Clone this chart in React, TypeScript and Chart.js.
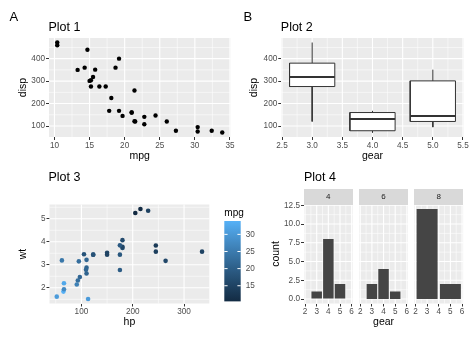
import React, { useEffect, useRef } from "react";
import { Chart, registerables } from "chart.js";
Chart.register(...registerables);

const W = 474;
const H = 338;
const FONT = "'Liberation Sans', Arial, Helvetica, sans-serif";
const TICK_SIZE = 8.2;
const AXIS_TITLE_SIZE = 10.5;

// ---------------- data (mtcars) ----------------
const mpg = [21.0, 21.0, 22.8, 21.4, 18.7, 18.1, 14.3, 24.4, 22.8, 19.2, 17.8, 16.4, 17.3, 15.2, 10.4, 10.4, 14.7, 32.4, 30.4, 33.9, 21.5, 15.5, 15.2, 13.3, 19.2, 27.3, 26.0, 30.4, 15.8, 19.7, 15.0, 21.4];
const disp = [160, 160, 108, 258, 360, 225, 360, 146.7, 140.8, 167.6, 167.6, 275.8, 275.8, 275.8, 472, 460, 440, 78.7, 75.7, 71.1, 120.1, 318, 304, 350, 400, 79, 120.3, 95.1, 351, 145, 301, 121];
const hp = [110, 110, 93, 110, 175, 105, 245, 62, 95, 123, 123, 180, 180, 180, 205, 215, 230, 66, 52, 65, 97, 150, 150, 245, 175, 66, 91, 113, 264, 175, 335, 109];
const wt = [2.62, 2.875, 2.32, 3.215, 3.44, 3.46, 3.57, 3.19, 3.15, 3.44, 3.44, 4.07, 3.73, 3.78, 5.25, 5.424, 5.345, 2.2, 1.615, 1.835, 2.465, 3.52, 3.435, 3.84, 3.845, 1.935, 2.14, 1.513, 3.17, 2.77, 3.57, 2.78];

// boxplot of disp by gear
const boxGears = [3, 4, 5];
const boxLower = [120.1, 71.1, 95.1];
const boxQ1 = [275.8, 78.925, 120.3];
const boxMedian = [318, 130.9, 145];
const boxQ3 = [380, 160, 301];
const boxUpper = [472, 167.6, 351];

// bar counts of gear, faceted by cyl
const facetLabels = ["4", "6", "8"];
const facetGears = [[3, 4, 5], [3, 4, 5], [3, 5]];
const facetCounts = [[1, 8, 2], [2, 4, 1], [12, 2]];

// tick labels
const mpgTicks = [10, 15, 20, 25, 30, 35];
const dispTicks = [100, 200, 300, 400];
const gearBoxTicks = [2.5, 3.0, 3.5, 4.0, 4.5, 5.0, 5.5];
const hpTicks = [100, 200, 300];
const wtTicks = [2, 3, 4, 5];
const countTicks = [0, 2.5, 5, 7.5, 10, 12.5];
const gearBarTicks = [2, 3, 4, 5, 6];
const mpgLegendTicks = [15, 20, 25, 30];

const BOX_WIDTH = 0.75;
const BAR_FACTOR = 0.9;

// ---------------- helpers ----------------
function rng(a: number[]): [number, number] {
  return [Math.min(...a), Math.max(...a)];
}
function expand(r: [number, number], m = 0.05): [number, number] {
  const d = (r[1] - r[0]) * m;
  return [r[0] - d, r[1] + d];
}
function resolution(xs: number[]): number {
  const s = Array.from(new Set(xs)).sort((a, b) => a - b);
  let r = Infinity;
  for (let i = 1; i < s.length; i++) r = Math.min(r, s[i] - s[i - 1]);
  return isFinite(r) ? r : 1;
}

// Lab colour interpolation (like scales::seq_gradient_pal)
const WP = [0.95047, 1, 1.08883];
function hexRgb(h: string) {
  const n = parseInt(h.slice(1), 16);
  return [(n >> 16) & 255, (n >> 8) & 255, n & 255];
}
const toLin = (c: number) => {
  c /= 255;
  return c <= 0.04045 ? c / 12.92 : Math.pow((c + 0.055) / 1.055, 2.4);
};
const fromLin = (c: number) => {
  const v = c <= 0.0031308 ? 12.92 * c : 1.055 * Math.pow(Math.max(c, 0), 1 / 2.4) - 0.055;
  return Math.round(Math.min(1, Math.max(0, v)) * 255);
};
const fl = (t: number) => (t > 216 / 24389 ? Math.cbrt(t) : ((24389 / 27) * t + 16) / 116);
const flInv = (t: number) => {
  const t3 = t * t * t;
  return t3 > 216 / 24389 ? t3 : (116 * t - 16) / (24389 / 27);
};
function rgbToLab(rgb: number[]) {
  const [r, g, b] = rgb.map(toLin);
  const X = 0.4124564 * r + 0.3575761 * g + 0.1804375 * b;
  const Y = 0.2126729 * r + 0.7151522 * g + 0.072175 * b;
  const Z = 0.0193339 * r + 0.119192 * g + 0.9503041 * b;
  const fx = fl(X / WP[0]), fy = fl(Y / WP[1]), fz = fl(Z / WP[2]);
  return [116 * fy - 16, 500 * (fx - fy), 200 * (fy - fz)];
}
function labToRgb(lab: number[]) {
  const fy = (lab[0] + 16) / 116;
  const fx = fy + lab[1] / 500;
  const fz = fy - lab[2] / 200;
  const X = WP[0] * flInv(fx), Y = WP[1] * flInv(fy), Z = WP[2] * flInv(fz);
  const r = 3.2404542 * X - 1.5371385 * Y - 0.4985314 * Z;
  const g = -0.969266 * X + 1.8760108 * Y + 0.041556 * Z;
  const b = 0.0556434 * X - 0.2040259 * Y + 1.0572252 * Z;
  return [fromLin(r), fromLin(g), fromLin(b)];
}
const LOW = rgbToLab(hexRgb("#132B43"));
const HIGH = rgbToLab(hexRgb("#56B1F7"));
const mpgDomain = rng(mpg);
function mpgColor(v: number) {
  const t = Math.min(1, Math.max(0, (v - mpgDomain[0]) / (mpgDomain[1] - mpgDomain[0])));
  const c = labToRgb(LOW.map((l, i) => l + (HIGH[i] - l) * t));
  return `rgb(${c[0]},${c[1]},${c[2]})`;
}

// ---------------- plugins ----------------
const ggGrid = {
  id: "ggGrid",
  beforeDatasetsDraw(chart: any, _args: any, opts: any) {
    if (!opts || !opts.enabled) return;
    const { ctx, chartArea: a } = chart;
    ctx.save();
    ctx.fillStyle = "#EBEBEB";
    ctx.fillRect(a.left, a.top, a.right - a.left, a.bottom - a.top);
    ctx.strokeStyle = "#FFFFFF";
    const lines = (id: string, minor: boolean) => {
      const s = chart.scales[id];
      const majors: number[] = s.ticks.map((t: any) => t.value);
      const step = majors[1] - majors[0];
      const vals = minor
        ? [majors[0] - step / 2, ...majors.map((v) => v + step / 2)]
        : majors;
      ctx.beginPath();
      for (const v of vals) {
        if (v < s.min || v > s.max) continue;
        const p = s.getPixelForValue(v);
        if (id === "x") {
          ctx.moveTo(p, a.top);
          ctx.lineTo(p, a.bottom);
        } else {
          ctx.moveTo(a.left, p);
          ctx.lineTo(a.right, p);
        }
      }
      ctx.stroke();
    };
    ctx.lineWidth = 0.55;
    lines("x", true);
    lines("y", true);
    ctx.lineWidth = 1.1;
    lines("x", false);
    lines("y", false);
    ctx.restore();
  },
};

const cbTicks = {
  id: "cbTicks",
  afterDatasetsDraw(chart: any, _args: any, opts: any) {
    if (!opts || !opts.enabled) return;
    const { ctx, chartArea: a } = chart;
    const s = chart.scales.y;
    const len = (a.right - a.left) / 5;
    ctx.save();
    ctx.strokeStyle = "#FFFFFF";
    ctx.lineWidth = 1;
    ctx.beginPath();
    for (const t of s.ticks) {
      const y = s.getPixelForValue(t.value);
      ctx.moveTo(a.left, y);
      ctx.lineTo(a.left + len, y);
      ctx.moveTo(a.right - len, y);
      ctx.lineTo(a.right, y);
    }
    ctx.stroke();
    ctx.restore();
  },
};

// ---------------- layout ----------------
type Rect = { L: number; T: number; R: number; B: number };
const P1: Rect = { L: 49, T: 38, R: 230.5, B: 137 };
const P2: Rect = { L: 281.25, T: 38, R: 463.75, B: 137 };
const P3: Rect = { L: 49.5, T: 204.5, R: 209.3, B: 303.5 };
const P4: Rect[] = [
  { L: 304, T: 204.5, R: 352.7, B: 303.5 },
  { L: 359.2, T: 204.5, R: 407.9, B: 303.5 },
  { L: 414.4, T: 204.5, R: 463.1, B: 303.5 },
];
const CB: Rect = { L: 224.3, T: 221, R: 240.7, B: 301.5 };
const TITLE_HALF = (AXIS_TITLE_SIZE * 1.2) / 2;

function pad(r: Rect, yw: number, xh: number) {
  return { left: r.L - yw, top: r.T, right: W - r.R, bottom: H - r.B - xh };
}

type AxisOpt = {
  min: number;
  max: number;
  ticks: number[];
  fmt: (v: number) => string;
  title?: string;
  size: number;
  position: "left" | "bottom" | "right";
  display?: boolean;
};
function axis(o: AxisOpt): any {
  const horizontal = o.position === "bottom";
  return {
    type: "linear",
    position: o.position,
    min: o.min,
    max: o.max,
    bounds: "data",
    display: o.display !== false,
    offset: false,
    afterBuildTicks: (s: any) => {
      s.ticks = o.ticks.map((v) => ({ value: v }));
    },
    afterFit: (s: any) => {
      if (horizontal) s.height = o.size;
      else s.width = o.size;
    },
    ticks: {
      autoSkip: false,
      maxRotation: 0,
      minRotation: 0,
      padding: horizontal ? 0.8 : 1,
      color: "#4D4D4D",
      font: { family: FONT, size: TICK_SIZE },
      callback: (v: number) => o.fmt(v),
    },
    grid: {
      display: true,
      drawOnChartArea: false,
      drawTicks: true,
      tickLength: 3,
      tickWidth: 1,
      tickColor: "#333333",
      color: "rgba(0,0,0,0)",
      offset: false,
    },
    border: { display: false },
    title: {
      display: !!o.title,
      text: o.title || "",
      color: "#000000",
      font: { family: FONT, size: AXIS_TITLE_SIZE },
      padding: 0,
    },
  };
}

function baseOptions(padding: any, scales: any, grid = true, cb = false): any {
  return {
    responsive: false,
    animation: false,
    events: [],
    layout: { padding },
    scales,
    plugins: {
      legend: { display: false },
      tooltip: { enabled: false },
      title: { display: false },
      ggGrid: { enabled: grid },
      cbTicks: { enabled: cb },
    },
  };
}

const int = (v: number) => String(v);
const one = (v: number) => v.toFixed(1);

// axis-title centre positions (page coords)
const Y_TITLE_X_LEFT = 22.7;
const Y_TITLE_X_P2 = 253.7;
const Y_TITLE_X_P4 = 276;
const X_TITLE_Y_TOP = 155.7;
const X_TITLE_Y_BOTTOM = 322.2;

function makeConfigs(): any[] {
  const cfgs: any[] = [];
  const mpgLim = expand(rng(mpg));
  const dispLim = expand(rng(disp));
  const xhTop = X_TITLE_Y_TOP + TITLE_HALF - P1.B;
  const xhBottom = X_TITLE_Y_BOTTOM + TITLE_HALF - P3.B;

  // Plot 1
  const yw1 = P1.L - (Y_TITLE_X_LEFT - TITLE_HALF);
  cfgs.push({
    type: "scatter",
    data: {
      datasets: [
        {
          data: mpg.map((m, i) => ({ x: m, y: disp[i] })),
          pointRadius: 2.2,
          backgroundColor: "#000000",
          borderWidth: 0,
        },
      ],
    },
    options: baseOptions(pad(P1, yw1, xhTop), {
      x: axis({ min: mpgLim[0], max: mpgLim[1], ticks: mpgTicks, fmt: int, title: "mpg", size: xhTop, position: "bottom" }),
      y: axis({ min: dispLim[0], max: dispLim[1], ticks: dispTicks, fmt: int, title: "disp", size: yw1, position: "left" }),
    }),
    plugins: [ggGrid, cbTicks],
  });

  // Plot 2 (boxplots)
  const half = BOX_WIDTH / 2;
  const boxX = expand([Math.min(...boxGears) - half, Math.max(...boxGears) + half]);
  const boxY = expand([Math.min(...boxLower), Math.max(...boxUpper)]);
  const ds2: any[] = [];
  boxGears.forEach((g, i) => {
    const lineStyle = { showLine: true, pointRadius: 0, borderColor: "#333333", fill: false };
    ds2.push({ ...lineStyle, order: 3, borderWidth: 1, data: [{ x: g, y: boxQ3[i] }, { x: g, y: boxUpper[i] }] });
    ds2.push({ ...lineStyle, order: 3, borderWidth: 1, data: [{ x: g, y: boxQ1[i] }, { x: g, y: boxLower[i] }] });
    ds2.push({
      ...lineStyle,
      order: 2,
      borderWidth: 1,
      fill: "shape",
      backgroundColor: "#FFFFFF",
      borderJoinStyle: "miter",
      data: [
        { x: g - half, y: boxQ1[i] },
        { x: g + half, y: boxQ1[i] },
        { x: g + half, y: boxQ3[i] },
        { x: g - half, y: boxQ3[i] },
        { x: g - half, y: boxQ1[i] },
      ],
    });
    ds2.push({ ...lineStyle, order: 1, borderWidth: 2, borderCapStyle: "butt", data: [{ x: g - half, y: boxMedian[i] }, { x: g + half, y: boxMedian[i] }] });
  });
  const yw2 = P2.L - (Y_TITLE_X_P2 - TITLE_HALF);
  cfgs.push({
    type: "scatter",
    data: { datasets: ds2 },
    options: baseOptions(pad(P2, yw2, xhTop), {
      x: axis({ min: boxX[0], max: boxX[1], ticks: gearBoxTicks, fmt: one, title: "gear", size: xhTop, position: "bottom" }),
      y: axis({ min: boxY[0], max: boxY[1], ticks: dispTicks, fmt: int, title: "disp", size: yw2, position: "left" }),
    }),
    plugins: [ggGrid, cbTicks],
  });

  // Plot 3
  const hpLim = expand(rng(hp));
  const wtLim = expand(rng(wt));
  const yw3 = P3.L - (Y_TITLE_X_LEFT - TITLE_HALF);
  cfgs.push({
    type: "scatter",
    data: {
      datasets: [
        {
          data: hp.map((h, i) => ({ x: h, y: wt[i] })),
          pointRadius: 2.3,
          backgroundColor: mpg.map(mpgColor),
          borderWidth: 0,
        },
      ],
    },
    options: baseOptions(pad(P3, yw3, xhBottom), {
      x: axis({ min: hpLim[0], max: hpLim[1], ticks: hpTicks, fmt: int, title: "hp", size: xhBottom, position: "bottom" }),
      y: axis({ min: wtLim[0], max: wtLim[1], ticks: wtTicks, fmt: int, title: "wt", size: yw3, position: "left" }),
    }),
    plugins: [ggGrid, cbTicks],
  });

  // Plot 4 facets
  const widths = facetGears.map((g) => BAR_FACTOR * resolution(g));
  const lo = Math.min(...facetGears.map((g, i) => Math.min(...g) - widths[i] / 2));
  const hi = Math.max(...facetGears.map((g, i) => Math.max(...g) + widths[i] / 2));
  const barX = expand([lo, hi]);
  const barY = expand([0, Math.max(...facetCounts.flat())]);
  const tickStep = gearBarTicks[1] - gearBarTicks[0];
  facetGears.forEach((gears, f) => {
    const res = resolution(gears);
    const rulerMin = Math.min(res, tickStep);
    const yw = f === 0 ? P4[0].L - (Y_TITLE_X_P4 - TITLE_HALF) : 0;
    cfgs.push({
      type: "bar",
      data: {
        datasets: [
          {
            data: gears.map((g, i) => ({ x: g, y: facetCounts[f][i] })),
            backgroundColor: "#454545",
            borderWidth: 0,
            categoryPercentage: 1,
            barPercentage: (BAR_FACTOR * res) / rulerMin,
          },
        ],
      },
      options: baseOptions(pad(P4[f], yw, xhBottom), {
        x: axis({ min: barX[0], max: barX[1], ticks: gearBarTicks, fmt: int, title: f === 1 ? "gear" : undefined, size: xhBottom, position: "bottom" }),
        y: axis({ min: barY[0], max: barY[1], ticks: countTicks, fmt: one, title: "count", size: yw, position: "left", display: f === 0 }),
      }),
      plugins: [ggGrid, cbTicks],
    });
  });

  // Colour bar legend
  const cbAxis = axis({ min: mpgDomain[0], max: mpgDomain[1], ticks: mpgLegendTicks, fmt: int, size: 20, position: "right" });
  cbAxis.grid = { display: false, drawTicks: false };
  cbAxis.ticks.padding = 5;
  cfgs.push({
    type: "bar",
    data: {
      labels: ["mpg"],
      datasets: [
        {
          data: [[mpgDomain[0], mpgDomain[1]]],
          borderWidth: 0,
          borderSkipped: false,
          barPercentage: 1,
          categoryPercentage: 1,
          backgroundColor: (c: any) => {
            const ch = c.chart;
            const ys = ch.scales && ch.scales.y;
            if (!ch.chartArea || !ys) return mpgColor((mpgDomain[0] + mpgDomain[1]) / 2);
            const y0 = ys.getPixelForValue(mpgDomain[1]);
            const y1 = ys.getPixelForValue(mpgDomain[0]);
            const g = ch.ctx.createLinearGradient(0, y0, 0, y1);
            const n = 30;
            for (let i = 0; i <= n; i++) {
              g.addColorStop(i / n, mpgColor(mpgDomain[1] - ((mpgDomain[1] - mpgDomain[0]) * i) / n));
            }
            return g;
          },
        },
      ],
    },
    options: baseOptions(
      { left: CB.L, top: CB.T, right: W - CB.R - 20, bottom: H - CB.B },
      { x: { display: false }, y: cbAxis },
      false,
      true
    ),
    plugins: [ggGrid, cbTicks],
  });
  return cfgs;
}

function Txt(props: { x: number; cy: number; size: number; text: string; color?: string }) {
  const lh = Math.round(props.size * 1.25);
  return (
    <div
      style={{
        position: "absolute",
        left: props.x,
        top: props.cy - lh / 2,
        fontSize: props.size,
        lineHeight: lh + "px",
        color: props.color || "#000000",
        whiteSpace: "nowrap",
        fontFamily: FONT,
      }}
    >
      {props.text}
    </div>
  );
}

export default function App() {
  const canvases = useRef<(HTMLCanvasElement | null)[]>([]);
  const N = 7;
  useEffect(() => {
    const cfgs = makeConfigs();
    const charts = cfgs.map((cfg, i) => new Chart(canvases.current[i] as HTMLCanvasElement, cfg));
    return () => charts.forEach((c) => c.destroy());
  }, []);
  return (
    <div
      style={{
        position: "absolute",
        left: 0,
        top: 0,
        width: W,
        height: H,
        background: "#FFFFFF",
        overflow: "hidden",
        fontFamily: FONT,
      }}
    >
      {Array.from({ length: N }).map((_, i) => (
        <canvas
          key={i}
          ref={(el) => {
            canvases.current[i] = el;
          }}
          width={W}
          height={H}
          style={{ position: "absolute", left: 0, top: 0, width: W, height: H }}
        />
      ))}
      <Txt x={9.5} cy={17} size={13} text="A" />
      <Txt x={243.5} cy={17} size={13} text="B" />
      <Txt x={48.5} cy={27} size={12.5} text="Plot 1" />
      <Txt x={280.8} cy={27} size={12.5} text="Plot 2" />
      <Txt x={48.5} cy={177} size={12.5} text="Plot 3" />
      <Txt x={304} cy={177} size={12.5} text="Plot 4" />
      <Txt x={224.3} cy={212} size={10} text="mpg" />
      {P4.map((p, i) => (
        <div
          key={"strip" + i}
          style={{
            position: "absolute",
            left: p.L,
            top: 189,
            width: p.R - p.L,
            height: p.T - 189,
            background: "#D9D9D9",
            color: "#1A1A1A",
            fontSize: 8,
            lineHeight: p.T - 189 + "px",
            textAlign: "center",
            fontFamily: FONT,
          }}
        >
          {facetLabels[i]}
        </div>
      ))}
    </div>
  );
}
